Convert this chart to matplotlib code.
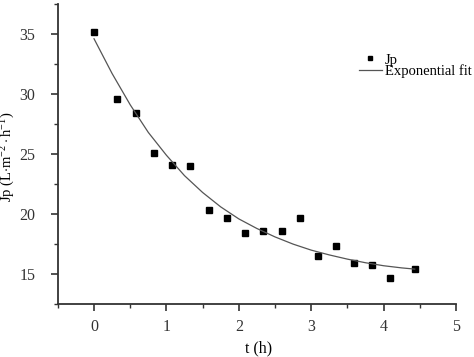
import numpy as np
import matplotlib
matplotlib.use('Agg')
import matplotlib.pyplot as plt
from matplotlib.ticker import MultipleLocator

plt.rcParams['font.family'] = 'Liberation Serif'
plt.rcParams['mathtext.fontset'] = 'custom'
plt.rcParams['mathtext.rm'] = 'Liberation Serif'
plt.rcParams['mathtext.it'] = 'Liberation Serif:italic'

# measured flux
t_data = [0.0, 0.32, 0.58, 0.83, 1.08, 1.33, 1.59, 1.83, 2.08, 2.34,
          2.59, 2.84, 3.09, 3.34, 3.59, 3.84, 4.09, 4.43]
jp_data = [35.2, 29.6, 28.4, 25.05, 24.1, 24.0, 20.35, 19.7, 18.45, 18.6,
           18.6, 19.65, 16.5, 17.35, 15.95, 15.75, 14.7, 15.4]

# fitted curve
t_fit = [0.0, 0.25, 0.5, 0.75, 1.0, 1.25, 1.5, 1.75, 2.0, 2.25, 2.5,
         2.75, 3.0, 3.25, 3.5, 3.75, 4.0, 4.25, 4.43]
jp_fit = [34.6, 31.7, 29.1, 26.8, 24.9, 23.2, 21.8, 20.6, 19.6, 18.8, 18.1,
          17.5, 17.0, 16.6, 16.25, 15.95, 15.7, 15.52, 15.42]

fig = plt.figure(figsize=(4.74, 3.57), dpi=100)
ax = fig.add_axes([0.122, 0.148, 0.840, 0.841])

ax.plot(t_data, jp_data, 's', color='black', markersize=5, label='Jp')
ax.plot(t_fit, jp_fit, '-', color='#555555', lw=0.9, label='Exponential fit')

ax.set_xlim(-0.5, 5)
ax.set_ylim(12.5, 37.5)
ax.xaxis.set_major_locator(MultipleLocator(1))
ax.xaxis.set_minor_locator(MultipleLocator(0.5))
ax.yaxis.set_major_locator(MultipleLocator(5))
ax.yaxis.set_minor_locator(MultipleLocator(2.5))

ax.spines['top'].set_visible(False)
ax.spines['right'].set_visible(False)
for s in ['left', 'bottom']:
    ax.spines[s].set_linewidth(1.3)
    ax.spines[s].set_color('#333333')
ax.tick_params(which='major', direction='out', length=5, width=1.2,
               labelsize=11.5, colors='#333333')
ax.tick_params(which='minor', direction='out', length=3, width=1.0,
               colors='#333333')
ax.tick_params(axis='x', which='major', pad=6)
ax.tick_params(axis='y', which='major', pad=11)

ax.set_xlabel('t (h)', fontsize=11.5)
ax.set_ylabel(r'Jp (L$\cdot$m$^{-2}\cdot$h$^{-1}$)', fontsize=10.5)
ax.xaxis.set_label_coords(0.505, -0.12)
ax.yaxis.set_label_coords(-0.103, 0.49)

ax.legend(loc='upper left', bbox_to_anchor=(0.741, 0.855), frameon=False,
          fontsize=10.5, handlelength=1.6, handletextpad=0.2,
          labelspacing=-0.15, markerscale=0.6, borderaxespad=0)

fig.savefig('out.png', dpi=100)
